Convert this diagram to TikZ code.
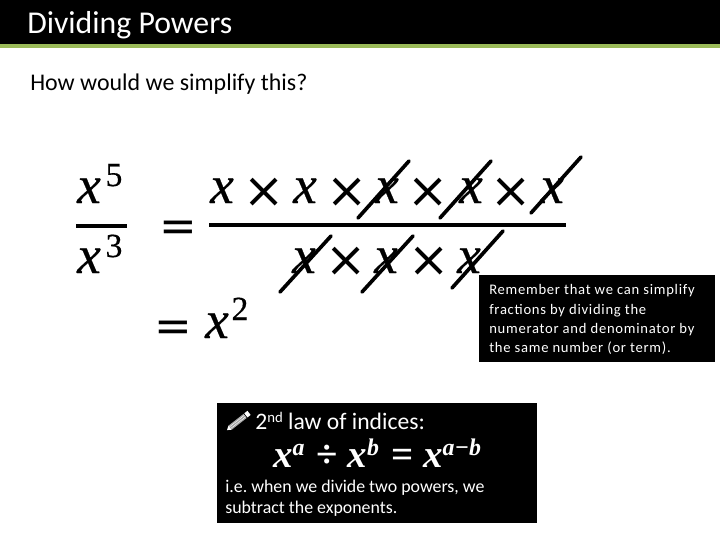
\documentclass[tikz,border=0pt]{standalone}
\usepackage{fontspec}
\setmainfont{Carlito}
\newfontfamily\formule{Liberation Serif}
\newfontfamily\signes{DejaVu Sans}
\definecolor{barvert}{HTML}{9BBB59}
\frenchspacing
\tikzset{
  titre/.style={anchor=base west,text=white,inner sep=0pt,font=\fontsize{22.6}{26}\selectfont},
  texte/.style={anchor=base west,inner sep=0pt,font=\fontsize{17}{20}\selectfont},
  lettre/.style={inner sep=0pt,anchor=base,font=\formule\itshape\fontsize{38}{40}\selectfont\addfontfeature{FakeBold=0.5}},
  expo/.style={inner sep=0pt,anchor=base,font=\formule\fontsize{24}{28}\selectfont\addfontfeature{FakeBold=0.4}},
  signe/.style={inner sep=0pt,anchor=base,font=\signes\fontsize{32}{36}\selectfont},
  croix/.style={inner sep=0pt,anchor=base,font=\signes\fontsize{35}{39}\selectfont},
  note/.style={anchor=base west,text=white,inner sep=0pt,font=\fontsize{10.4}{12}\selectfont\addfontfeature{LetterSpace=5}},
  loi/.style={anchor=base west,text=white,inner sep=0pt,font=\fontsize{12.7}{15}\selectfont},
  barre/.style={line width=2.9pt},
  rayure/.style={line width=2.6pt,line cap=round}
}
\newcommand{\haut}[1]{\raisebox{0.29em}{\fontsize{17}{20}\selectfont #1}}
\begin{document}
\begin{tikzpicture}[x=0.025cm,y=-0.025cm]
\useasboundingbox (0,0) rectangle (720,540);
% Bandeau
\fill[black] (0,0) rectangle (720,44);
\fill[barvert] (0,44) rectangle (720,48);
\node[titre] (title) at (27,33) {Dividing Powers};
\node[texte] (question) at (30,90) {How would we simplify this?};
% Fraction de gauche
\node[lettre] (xa) at (89,203) {x};
\node[expo] (cinq) at (114,186) {5};
\draw[barre] (76,226) -- (127,226);
\node[lettre] (xb) at (89,273) {x};
\node[expo] (trois) at (114,257) {3};
\node[signe] (egal) at (178,241) {=};
% Fraction developpee
\foreach \px/\nom in {222/a,305/b,387/c,471/d,552/e}
  \node[lettre] (num\nom) at (\px,203) {x};
\foreach \px/\nom in {264/a,347/b,428/c,511/d}
  \node[croix] (fois\nom) at (\px,207) {×};
\draw[barre] (209,225) -- (566,225);
\foreach \px/\nom in {304/a,386/b,469/c}
  \node[lettre] (den\nom) at (\px,273) {x};
\foreach \px/\nom in {346/a,429/b}
  \node[croix] (dfois\nom) at (\px,276) {×};
% Rayures
\foreach \xa/\ya/\xb/\yb in {358/218/409/161,440/218/491/161,531/213/581/157,280/292/331/236,362/292/413/236,452/288/503/231}
  \draw[rayure] (\xa,\ya) -- (\xb,\yb);
% Resultat
\node[signe] (egalb) at (173,341) {=};
\node[lettre] (res) at (217,338) {x};
\node[expo] (deux) at (240,320) {2};
% Rappel
\fill[black] (479,275) rectangle (715,362);
\node[note] (rappela) at (489,294) {Remember that we can simplify};
\node[note] (rappelb) at (489,314) {fractions by dividing the};
\node[note] (rappelc) at (489,333) {numerator and denominator by};
\node[note] (rappeld) at (489,352) {the same number (or term).};
% Loi
\fill[black] (217,403) rectangle (537,523);
\begin{scope}[shift={(238,421.5)},rotate=38]
\fill[white] (-14,0) -- (-10,-2.6) -- (-10,2.6) -- cycle;
\fill[gray!70] (-10,-2.6) rectangle (9,2.6);
\draw[white,line width=0.3pt] (-10,-1) -- (9,-1) (-10,1) -- (9,1);
\fill[white] (10,-2.6) rectangle (14,2.6);
\end{scope}
\node[loi,font=\fontsize{16.8}{19}\selectfont] (loia) at (255,429) {2\raisebox{0.6ex}{\fontsize{10.5}{12}\selectfont nd} law of indices:};
\node[lettre,text=white,font=\formule\bfseries\fontsize{27.7}{30}\selectfont] (loib) at (377,467) {{\itshape x\haut{a}}\hspace{0.06em} ÷ {\itshape x\haut{b}}\hspace{0.06em} = {\itshape x\haut{a−b}}};
\node[loi] (loic) at (225,492) {i.e. when we divide two powers, we};
\node[loi] (loid) at (225,513) {subtract the exponents.};
\end{tikzpicture}
\end{document}
